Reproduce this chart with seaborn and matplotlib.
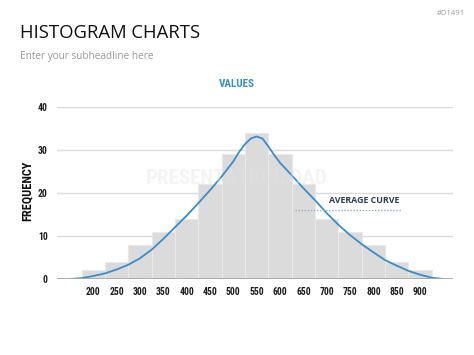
import matplotlib
matplotlib.use("Agg")
import matplotlib.pyplot as plt
import seaborn as sns
import numpy as np

# ---- data ----
bin_centers = [200, 250, 300, 350, 400, 450, 500, 550, 600, 650, 700, 750, 800, 850, 900]
frequencies = [2, 4, 8, 11, 14, 22, 29, 34, 29, 22, 14, 11, 8, 4, 2]
x_tick_labels = ["200", "250", "300", "350", "400", "450", "500", "550", "600",
                 "650", "700", "750", "800", "850", "900"]
y_ticks = [0, 10, 20, 30, 40]

curve_x = [150, 175, 200, 225, 250, 275, 300, 325, 350, 375, 400, 425, 450, 475,
           500, 512.5, 525, 537.5, 550, 562.5, 575, 587.5, 600, 625, 650, 675, 700,
           725, 750, 775, 800, 825, 850, 875, 900, 925, 950]
curve_y = [0.0, 0.2, 0.7, 1.3, 2.2, 3.3, 4.8, 6.8, 9.3, 12.0, 14.7, 17.6, 20.6, 23.8,
           27.3, 29.5, 31.3, 32.6, 33.1, 32.6, 30.8, 28.8, 27.0, 24.1, 21.1, 18.3, 15.3,
           12.6, 10.2, 8.1, 6.2, 4.4, 3.1, 1.9, 1.0, 0.3, 0.0]

title = "HISTOGRAM CHARTS"
subtitle = "Enter your subheadline here"
chart_title = "VALUES"
y_label = "FREQUENCY"
legend_label = "AVERAGE CURVE"
code_label = "#D1491"
watermark = "PRESENTATIONLOAD"

# ---- style ----
sns.set_style("white")
plt.rcParams["font.family"] = ["DejaVu Sans"]
narrow = ["Roboto Condensed", "Liberation Sans Narrow", "DejaVu Sans Condensed",
          "Open Sans Condensed", "Noto Sans Condensed", "DejaVu Sans"]
body = ["Open Sans", "DejaVu Sans"]

fig = plt.figure(figsize=(4.74, 3.55), dpi=100)
W, H = 474, 355
left, right, top, bottom = 57.3, 452.7, 106.7, 279.0
ax = fig.add_axes([left / W, 1 - bottom / H, (right - left) / W, (bottom - top) / H])

for yv in y_ticks[1:]:
    ax.axhline(yv, color="#DADADA", lw=1.0, zorder=0)

sns.histplot(x=bin_centers, weights=frequencies, binwidth=50, binrange=(175, 925),
             color="#DBDBDB", edgecolor="#E9E9E9", linewidth=0.8, alpha=1.0,
             ax=ax, zorder=2)

sns.lineplot(x=curve_x, y=curve_y, color="#3A8DCA", lw=1.3, ax=ax, zorder=4,
             estimator=None, sort=False)

ax.axhline(0, color="#A8A8A8", lw=1.3, zorder=5)

ax.set_xlim(123, 970)
ax.set_ylim(0, 40)
ax.set_xticks(bin_centers)
ax.set_xticklabels(x_tick_labels, family=narrow, weight="bold", fontsize=6.9,
                   stretch="condensed", color="#1E1E1E")
ax.set_yticks(y_ticks)
ax.set_yticklabels([str(v) for v in y_ticks], family=narrow, weight="bold", fontsize=6.9,
                   stretch="condensed", color="#1E1E1E")
ax.tick_params(axis="both", length=0)
ax.tick_params(axis="x", pad=5.5)
ax.tick_params(axis="y", pad=7)
ax.set_xlabel("")
ax.set_ylabel("")
for s in ax.spines.values():
    s.set_visible(False)

fig.text(237 / W, 1 - 178 / H, watermark, family=narrow, weight="bold", fontsize=15,
         stretch="condensed", color="#E2E2E2", alpha=0.35, ha="center", va="center",
         zorder=10)

ax.plot([633, 862], [16.0, 16.0], color="#8FB2D0", lw=1.0, ls=(0, (1, 1.2)), zorder=6)
ax.text(781, 18.2, legend_label, family=body, weight="bold", fontsize=6.4,
        color="#2E3D4E", ha="center", va="center", zorder=6)

fig.text(27 / W, 1 - 191 / H, y_label, family=narrow, weight="bold", fontsize=8.8,
         stretch="condensed", color="#111111", rotation=90, ha="center", va="center")
fig.text(237 / W, 1 - 84 / H, chart_title, family=narrow, weight="bold", fontsize=8.0,
         stretch="condensed", color="#3A8DCA", ha="center", va="center")
fig.text(20 / W, 1 - 33 / H, title, family=body, fontsize=13.3, color="#111111",
         ha="left", va="center")
fig.text(20 / W, 1 - 57 / H, subtitle, family=body, fontsize=7.2, color="#9A9A9A",
         ha="left", va="center")
fig.text(465 / W, 1 - 13.5 / H, code_label, family=body, fontsize=5.5, color="#9A9A9A",
         ha="right", va="center")

fig.savefig("out.png", dpi=100)
